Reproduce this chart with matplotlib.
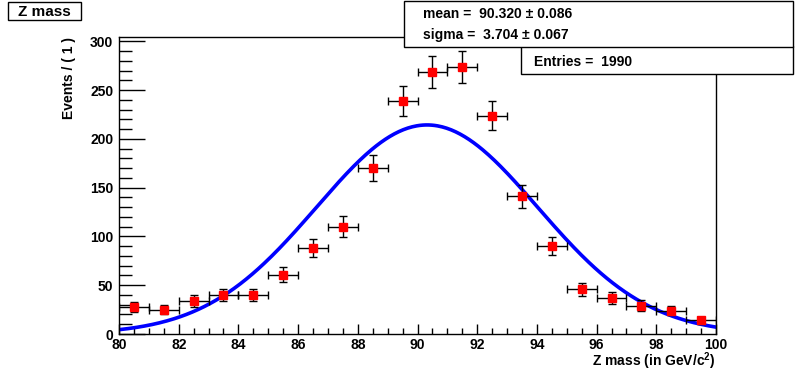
import numpy as np
import matplotlib
matplotlib.use("Agg")
import matplotlib.pyplot as plt
from matplotlib.patches import Rectangle
from matplotlib.ticker import MultipleLocator

plt.rcParams['font.family'] = ['Liberation Sans', 'DejaVu Sans']
plt.rcParams['font.weight'] = 'bold'
plt.rcParams['mathtext.fontset'] = 'custom'
plt.rcParams['mathtext.rm'] = 'Liberation Sans:bold'
plt.rcParams['mathtext.bf'] = 'Liberation Sans:bold'

# binned data (bin width 1 GeV)
bin_centers = [80.5, 81.5, 82.5, 83.5, 84.5, 85.5, 86.5, 87.5, 88.5, 89.5,
               90.5, 91.5, 92.5, 93.5, 94.5, 95.5, 96.5, 97.5, 98.5, 99.5]
counts = [28, 25, 34, 40, 40, 61, 88, 110, 170, 239,
          269, 274, 224, 141, 90, 46, 37, 29, 24, 14]

# fit results shown in the stat box
fit_mean = 90.320
fit_mean_err = 0.086
fit_sigma = 3.704
fit_sigma_err = 0.067
entries = 1990

fig = plt.figure(figsize=(7.96, 3.72), dpi=100)
ax = fig.add_axes([119 / 796, 38 / 372, 597 / 796, 297 / 372])

x = np.array(bin_centers)
y = np.array(counts)
ax.errorbar(x, y, xerr=0.5, yerr=np.sqrt(y), fmt='s', color='red', markersize=5.8,
            ecolor='black', elinewidth=1, capsize=2.6, capthick=1, zorder=3)

# gaussian fit curve from the fitted parameters
xc = np.linspace(80, 100, 400)
norm = entries / (np.sqrt(2 * np.pi) * fit_sigma)
yc = norm * np.exp(-0.5 * ((xc - fit_mean) / fit_sigma) ** 2)
ax.plot(xc, yc, color='#0000ff', linewidth=2.6, zorder=2)

ax.set_xlim(80, 100)
ax.set_ylim(0, 304.5)
ax.xaxis.set_major_locator(MultipleLocator(2))
ax.xaxis.set_minor_locator(MultipleLocator(0.5))
ax.yaxis.set_major_locator(MultipleLocator(50))
ax.yaxis.set_minor_locator(MultipleLocator(10))
ax.tick_params(axis='x', which='major', direction='in', length=7, width=1, labelsize=10, pad=3)
ax.tick_params(axis='x', which='minor', direction='in', length=4, width=1)
ax.tick_params(axis='y', which='major', direction='in', length=19, width=1, labelsize=10, pad=4)
ax.tick_params(axis='y', which='minor', direction='in', length=9.5, width=1)
for lab in ax.get_xticklabels() + ax.get_yticklabels():
    lab.set_fontweight('bold')
for s in ax.spines.values():
    s.set_linewidth(1)

ax.set_xlabel(r'Z mass (in GeV/c$^{2}$)', fontsize=10, fontweight='bold', loc='right', labelpad=-1)
ax.set_ylabel('Events / ( 1 )', fontsize=10, fontweight='bold', loc='top', labelpad=10)

# title and stat boxes
def box(x0, y0, x1, y1):
    fig.add_artist(Rectangle((x0 / 796, 1 - y1 / 372), (x1 - x0) / 796, (y1 - y0) / 372,
                             transform=fig.transFigure, facecolor='white',
                             edgecolor='black', linewidth=1, zorder=5))

box(8, 2, 81, 20)
fig.text(44 / 796, 1 - 11.5 / 372, 'Z mass', ha='center', va='center', fontsize=11,
         fontweight='bold', zorder=6)

box(521, 46, 793, 74)
fig.text(534 / 796, 1 - 62.5 / 372, f'Entries =  {entries}', ha='left', va='center',
         fontsize=10, fontweight='bold', zorder=6)

box(404, 0.5, 793, 47)
fig.text(423 / 796, 1 - 14 / 372, f'mean =  {fit_mean:.3f} \u00b1 {fit_mean_err:.3f}',
         ha='left', va='center', fontsize=10, fontweight='bold', zorder=6)
fig.text(423 / 796, 1 - 35 / 372, f'sigma =  {fit_sigma:.3f} \u00b1 {fit_sigma_err:.3f}',
         ha='left', va='center', fontsize=10, fontweight='bold', zorder=6)

fig.savefig('out.png', dpi=100)
plt.close(fig)
